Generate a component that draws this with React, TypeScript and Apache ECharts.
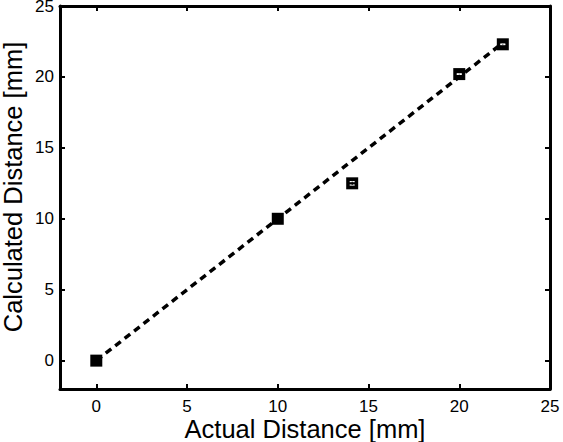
import { useEffect, useRef } from 'react';
import * as echarts from 'echarts';

// measured points
const actualDistance = [0, 10, 14.1, 20, 22.4];
const calculatedDistance = [0, 10, 12.5, 20.2, 22.3];
const errorValues = [0, 0, 0.12, 0.02, 0.02];

// dashed reference line
const fitX = [0, 22.4];
const fitY = [0, 22.4];

const xTicks = [0, 5, 10, 15, 20, 25];
const yTicks = [0, 5, 10, 15, 20, 25];

const FONT = "'Liberation Sans', Arial, Helvetica, sans-serif";

export default function App() {
  const chartRef = useRef<HTMLDivElement>(null);

  useEffect(() => {
    document.body.style.margin = '0';
    if (!chartRef.current) return;
    const chart = echarts.init(chartRef.current, undefined, { renderer: 'svg' });

    const axisLine = { onZero: false, lineStyle: { color: '#000', width: 3 } };
    const tickStyle = { show: true, inside: true, length: 5, lineStyle: { color: '#000', width: 2 } };

    const xBase = { type: 'value' as const, min: -2, max: 25, splitLine: { show: false }, axisLine };
    const yBase = { type: 'value' as const, min: -2, max: 25, splitLine: { show: false }, axisLine };

    const option: any = {
      animation: false,
      backgroundColor: '#fff',
      grid: { left: 60, right: 13, top: 6, bottom: 53, outerBoundsMode: 'none', containLabel: false },
      xAxis: [
        {
          ...xBase,
          position: 'bottom',
          axisTick: { ...tickStyle, customValues: xTicks },
          axisLabel: { customValues: xTicks, color: '#000', fontSize: 17, fontFamily: FONT, margin: 9 },
          name: 'Actual Distance [mm]',
          nameLocation: 'middle',
          nameGap: 27,
          nameMoveOverlap: false,
          nameTextStyle: { color: '#000', fontSize: 25.5, fontFamily: FONT },
        },
        {
          ...xBase,
          position: 'top',
          axisTick: { ...tickStyle, customValues: xTicks },
          axisLabel: { show: false },
        },
      ],
      yAxis: [
        {
          ...yBase,
          position: 'left',
          axisTick: { ...tickStyle, customValues: yTicks },
          axisLabel: { customValues: yTicks, color: '#000', fontSize: 17, fontFamily: FONT, margin: 6 },
        },
        {
          ...yBase,
          position: 'right',
          axisTick: { ...tickStyle, customValues: yTicks },
          axisLabel: { show: false },
        },
      ],
      graphic: [
        {
          type: 'text',
          x: 13,
          y: 187,
          rotation: Math.PI / 2,
          style: {
            text: 'Calculated Distance [mm]',
            fill: '#000',
            fontSize: 25.5,
            fontFamily: FONT,
            textAlign: 'center',
            textVerticalAlign: 'middle',
          },
        },
      ],
      series: [
        {
          type: 'line',
          data: fitX.map((x, i) => [x, fitY[i]]),
          symbol: 'none',
          lineStyle: { color: '#000', width: 3.5, type: [7, 5] },
          z: 2,
        },
        {
          type: 'scatter',
          data: actualDistance.map((x, i) => [x, calculatedDistance[i]]),
          symbol: 'rect',
          symbolSize: 12,
          itemStyle: { color: '#000', opacity: 1 },
          z: 3,
        },
        {
          type: 'custom',
          data: actualDistance.map((x, i) => [x, calculatedDistance[i], errorValues[i]]),
          z: 4,
          renderItem: (_params: any, api: any) => {
            const x = api.value(0);
            const y = api.value(1);
            const e = api.value(2);
            if (!e) return { type: 'group', children: [] };
            const top = api.coord([x, y + e]);
            const bot = api.coord([x, y - e]);
            const hw = 2.5;
            const white = { stroke: '#fff', lineWidth: 1.2 };
            return {
              type: 'group',
              children: [
                { type: 'line', shape: { x1: top[0] - hw, y1: top[1], x2: top[0] + hw, y2: top[1] }, style: white },
                { type: 'line', shape: { x1: bot[0] - hw, y1: bot[1], x2: bot[0] + hw, y2: bot[1] }, style: white },
                { type: 'line', shape: { x1: top[0], y1: top[1], x2: bot[0], y2: bot[1] }, style: { stroke: '#000', lineWidth: 1 } },
              ],
            };
          },
        },
      ],
    };

    chart.setOption(option);
    return () => {
      chart.dispose();
    };
  }, []);

  return <div ref={chartRef} style={{ width: 563, height: 442 }} />;
}
